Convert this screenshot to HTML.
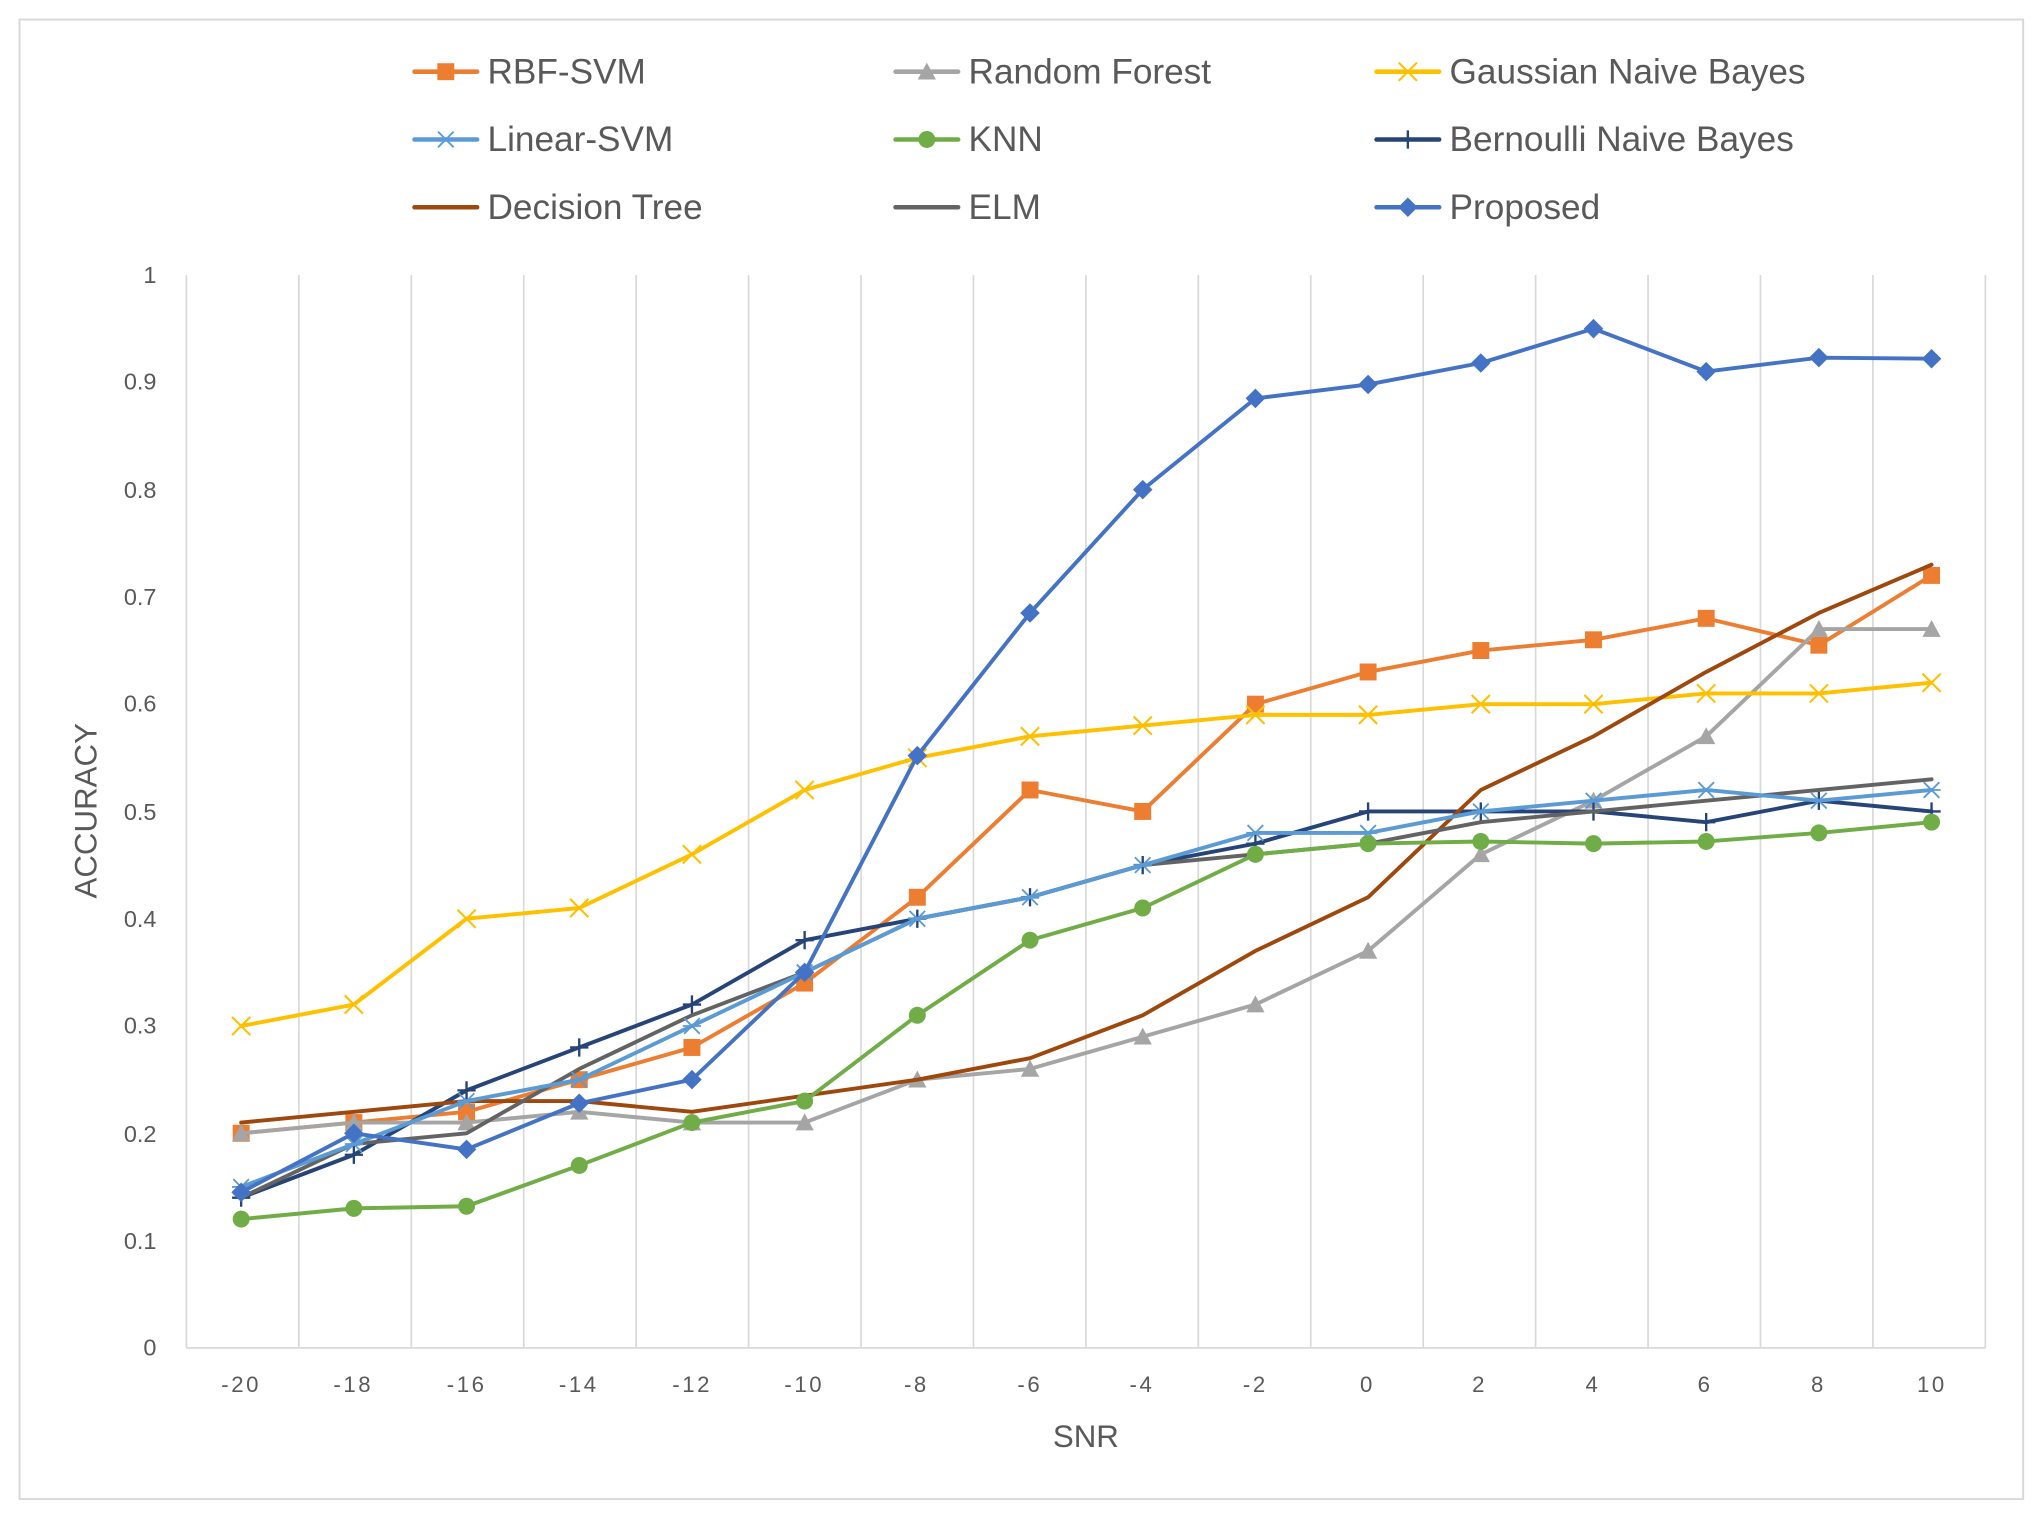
<!DOCTYPE html>
<html><head><meta charset="utf-8"><style>
html,body{margin:0;padding:0;background:#fff;}
svg{display:block;font-family:"Liberation Sans","DejaVu Sans",sans-serif;}
</style></head><body>
<svg id="c" width="2044" height="1516" viewBox="0 0 1568 1163" preserveAspectRatio="none" xmlns="http://www.w3.org/2000/svg">
<rect x="0" y="0" width="1568" height="1163" fill="#fff"/>
<rect x="15" y="15" width="1537" height="1135" fill="none" stroke="#d9d9d9" stroke-width="1.5"/>
<g id="grid" stroke="#d9d9d9" stroke-width="1.3"></g>
<g fill="#595959" font-size="18" text-anchor="end">
<text x="120" y="1040">0</text><text x="120" y="958">0.1</text><text x="120" y="876">0.2</text><text x="120" y="793">0.3</text><text x="120" y="711">0.4</text><text x="120" y="629">0.5</text><text x="120" y="546">0.6</text><text x="120" y="464">0.7</text><text x="120" y="382">0.8</text><text x="120" y="299">0.9</text><text x="120" y="217">1</text>
</g>
<g fill="#595959" font-size="17" text-anchor="middle" letter-spacing="2">
<text x="185" y="1068">-20</text><text x="271" y="1068">-18</text><text x="358" y="1068">-16</text><text x="444" y="1068">-14</text><text x="531" y="1068">-12</text><text x="617" y="1068">-10</text><text x="703" y="1068">-8</text><text x="790" y="1068">-6</text><text x="876" y="1068">-4</text><text x="963" y="1068">-2</text><text x="1049" y="1068">0</text><text x="1135" y="1068">2</text><text x="1222" y="1068">4</text><text x="1308" y="1068">6</text><text x="1395" y="1068">8</text><text x="1482" y="1068">10</text>
</g>
<text x="833" y="1110" fill="#595959" font-size="24" text-anchor="middle">SNR</text>
<text x="0" y="0" fill="#595959" font-size="24" text-anchor="middle" transform="translate(74,622) rotate(-90)">ACCURACY</text>
<g fill="#595959" font-size="27">
<text x="374" y="64">RBF-SVM</text><text x="743" y="64">Random Forest</text><text x="1112" y="64">Gaussian Naive Bayes</text>
<text x="374" y="116">Linear-SVM</text><text x="743" y="116">KNN</text><text x="1112" y="116">Bernoulli Naive Bayes</text>
<text x="374" y="168">Decision Tree</text><text x="743" y="168">ELM</text><text x="1112" y="168">Proposed</text>
</g>
<g id="series"></g>
</svg>
<script>
var NS="http://www.w3.org/2000/svg";
function el(t,a,p){var e=document.createElementNS(NS,t);for(var k in a)e.setAttribute(k,a[k]);p.appendChild(e);return e;}
var g=document.getElementById('grid');
for(var i=0;i<=16;i++){var x=143+i*86.25;el('line',{x1:x,y1:211,x2:x,y2:1034},g);}
el('line',{x1:143,y1:1034,x2:1523,y2:1034},g);
function X(i){return 185+i*86.45;}function Y(v){return 1034-v*823;}
var S=[
["#ED7D31","sq",[0.2,0.21,0.22,0.25,0.28,0.34,0.42,0.52,0.5,0.6,0.63,0.65,0.66,0.68,0.655,0.72],0,0],
["#A5A5A5","tri",[0.2,0.21,0.21,0.22,0.21,0.21,0.25,0.26,0.29,0.32,0.37,0.46,0.51,0.57,0.67,0.67],1,0],
["#FFC000","x",[0.3,0.32,0.4,0.41,0.46,0.52,0.55,0.57,0.58,0.59,0.59,0.6,0.6,0.61,0.61,0.62],2,0],
["#264478","plus",[0.14,0.18,0.24,0.28,0.32,0.38,0.4,0.42,0.45,0.47,0.5,0.5,0.5,0.49,0.51,0.5],2,1],
["#9E480E","none",[0.21,0.22,0.23,0.23,0.22,0.235,0.25,0.27,0.31,0.37,0.42,0.52,0.57,0.63,0.685,0.73],0,2],
["#636363","none",[0.14,0.19,0.2,0.26,0.31,0.35,0.4,0.42,0.45,0.46,0.47,0.49,0.5,0.51,0.52,0.53],1,2],
["#5B9BD5","star",[0.15,0.19,0.23,0.25,0.3,0.35,0.4,0.42,0.45,0.48,0.48,0.5,0.51,0.52,0.51,0.52],0,1],
["#70AD47","circ",[0.12,0.13,0.132,0.17,0.21,0.23,0.31,0.38,0.41,0.46,0.47,0.472,0.47,0.472,0.48,0.49],1,1],
["#4472C4","dia",[0.145,0.2,0.185,0.228,0.25,0.35,0.552,0.685,0.8,0.885,0.898,0.918,0.95,0.91,0.923,0.922],2,2]
];
var sg=document.getElementById('series');
function mk(t,x,y,c,p){
 if(t=="sq")el('rect',{x:x-6.5,y:y-6.5,width:13,height:13,fill:c},p);
 else if(t=="tri")el('polygon',{points:(x-7)+","+(y+6)+" "+(x+7)+","+(y+6)+" "+x+","+(y-7),fill:c},p);
 else if(t=="circ")el('circle',{cx:x,cy:y,r:6.5,fill:c},p);
 else if(t=="dia")el('polygon',{points:x+","+(y-7.5)+" "+(x+7.5)+","+y+" "+x+","+(y+7.5)+" "+(x-7.5)+","+y,fill:c},p);
 else if(t=="x")el('path',{d:"M"+(x-7)+" "+(y-7)+"L"+(x+7)+" "+(y+7)+"M"+(x+7)+" "+(y-7)+"L"+(x-7)+" "+(y+7),stroke:c,"stroke-width":1.6},p);
 else if(t=="plus")el('path',{d:"M"+(x-7)+" "+y+"L"+(x+7)+" "+y+"M"+x+" "+(y-7)+"L"+x+" "+(y+7),stroke:c,"stroke-width":1.8},p);
 else if(t=="star")el('path',{d:"M"+(x-7)+" "+y+"L"+(x+7)+" "+y+"M"+(x-6)+" "+(y-6)+"L"+(x+6)+" "+(y+6)+"M"+(x+6)+" "+(y-6)+"L"+(x-6)+" "+(y+6),stroke:c,"stroke-width":1.4},p);
}
S.forEach(function(s){
 var pts=s[2].map(function(v,i){return X(i)+","+Y(v);}).join(" ");
 el('polyline',{points:pts,fill:"none",stroke:s[0],"stroke-width":3,"stroke-linejoin":"round","stroke-linecap":"round"},sg);
 s[2].forEach(function(v,i){mk(s[1],X(i),Y(v),s[0],sg);});
 var lx=[318,687,1056][s[3]],ly=[55,107,159][s[4]];
 el('line',{x1:lx,y1:ly,x2:lx+48,y2:ly,stroke:s[0],"stroke-width":3.5,"stroke-linecap":"round"},sg);
 mk(s[1],lx+24,ly,s[0],sg);
});
</script>
</body></html>
